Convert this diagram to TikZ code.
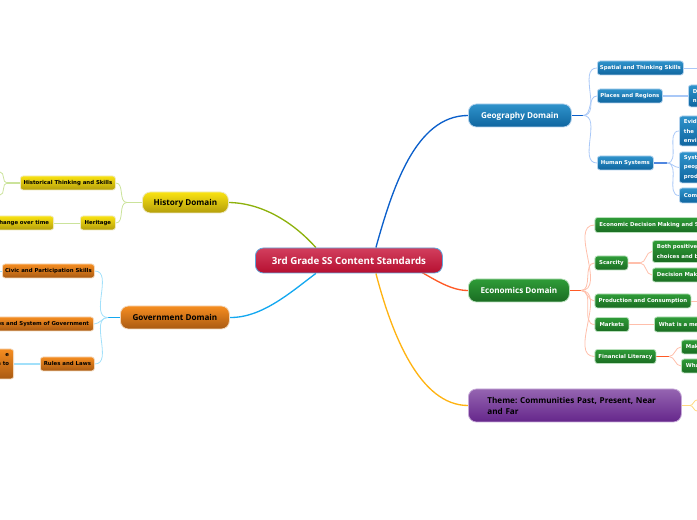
\documentclass[tikz,border=0pt]{standalone}
\usepackage{fontspec}
\setmainfont{Open Sans}
\newfontfamily\leaffont{DejaVu Sans}
\usetikzlibrary{backgrounds,calc}
\frenchspacing

\tikzset{
  wd/.style={minimum width=#1*0.75pt},
  ht/.style={minimum height=#1*0.75pt},
  box/.style={shape = rectangle, inner sep = 0pt, anchor = west, line width = 0.6pt},
  mainbox/.style={box, rounded corners = 6pt, text height = 5.2pt, text depth = 0.4pt, font = \fontsize{6.1}{8.2}\selectfont\bfseries},
  leafbox/.style={box, rounded corners = 2pt, ht = 14, text height = 3.6pt, text depth = 0.6pt, font = \leaffont\fontsize{4.05}{6.8}\selectfont\bfseries},
  multiline/.style={text height = , text depth = },
  offpage/.style={text width = 90pt, inner xsep = 3.4pt, align = left},
  offleft/.style={text width = 100pt, inner xsep = 3.4pt, align = right, anchor = east},
  blue box/.style={top color = blueA, bottom color = blueB, draw = blueL, text = white},
  green box/.style={top color = greenA, bottom color = greenB, draw = greenL, text = white},
  yellow box/.style={top color = yellowA, bottom color = yellowB, draw = yellowL, text = black},
  orange box/.style={top color = orangeA, bottom color = orangeB, draw = orangeL, text = black},
  blue trunk/.style={draw = blueT, line width = 0.9pt},
  blue twig/.style={draw = blueW, line width = 0.6pt},
  blue thick/.style={draw = blueW, line width = 1.3pt},
  red trunk/.style={draw = redT, line width = 0.9pt},
  red twig/.style={draw = redW, line width = 0.6pt},
  red thick/.style={draw = redW, line width = 1.3pt},
  lime twig/.style={draw = limeW, line width = 0.6pt},
  sky twig/.style={draw = skyW, line width = 0.6pt},
  sky thick/.style={draw = skyW, line width = 1.3pt},
  gold twig/.style={draw = goldW, line width = 0.6pt},
}
\definecolor{blueA}{HTML}{2F93CB}
\definecolor{blueB}{HTML}{0F659F}
\definecolor{blueL}{HTML}{B5D3EE}
\definecolor{blueT}{HTML}{4F86E0}
\definecolor{blueM}{HTML}{0B5FCB}
\definecolor{blueW}{HTML}{A9C8F7}
\definecolor{greenA}{HTML}{2F9C38}
\definecolor{greenB}{HTML}{1A6C22}
\definecolor{greenL}{HTML}{B9E0BC}
\definecolor{redT}{HTML}{FF5A26}
\definecolor{redW}{HTML}{FFBFAB}
\definecolor{yellowA}{HTML}{FAE311}
\definecolor{yellowB}{HTML}{B49E0B}
\definecolor{yellowL}{HTML}{EEE9C0}
\definecolor{limeT}{HTML}{8DB10C}
\definecolor{limeW}{HTML}{CBE39B}
\definecolor{orangeA}{HTML}{F68D20}
\definecolor{orangeB}{HTML}{A95A12}
\definecolor{orangeL}{HTML}{F2D9BE}
\definecolor{skyT}{HTML}{14A8F0}
\definecolor{skyW}{HTML}{A2E0FA}
\definecolor{goldT}{HTML}{FFB312}
\definecolor{goldW}{HTML}{FFD87F}
\definecolor{purpleA}{HTML}{9565B1}
\definecolor{purpleB}{HTML}{65268B}
\definecolor{purpleL}{HTML}{C7A9D8}
\definecolor{crimsonA}{HTML}{D23F5E}
\definecolor{crimsonB}{HTML}{B60F30}
\definecolor{crimsonL}{HTML}{5FA5DA}

\begin{document}
\begin{tikzpicture}[x=0.75pt, y=-0.75pt]
\useasboundingbox (0,0) rectangle (697,520);

% centre and domains
\node[mainbox, wd = 187, ht = 25, text height = 6pt, text depth = 0.6pt, font = \fontsize{7.3}{9}\selectfont\bfseries, top color = crimsonA, bottom color = crimsonB, draw = crimsonL, text = white] (main) at (255,260.5) {3rd Grade SS Content Standards};
\node[mainbox, wd = 103, ht = 23, blue box] (geography) at (468,115.5) {Geography Domain};
\node[mainbox, wd = 101, ht = 23, green box] (economics) at (468,290.5) {Economics Domain};
\node[mainbox, wd = 86, ht = 21, yellow box] (history) at (142,202.5) {History Domain};
\node[mainbox, wd = 109, ht = 23, orange box] (government) at (120,317.5) {Government Domain};
\node[mainbox, multiline, wd = 213, ht = 33, top color = purpleA, bottom color = purpleB, draw = purpleL, text = black, text width = 175*0.75pt, align = left, inner xsep = 13.5pt] (theme) at (468,405.5) {Theme: Communities Past, Present, Near\\and Far};

% geography
\node[leafbox, wd = 86, blue box] (spatial) at (597,68) {Spatial and Thinking Skills};
\node[leafbox, wd = 65, blue box] (places) at (597,96) {Places and Regions};
\node[leafbox, wd = 56, blue box] (human) at (597,163) {Human Systems};
\node[leafbox, multiline, offpage, ht = 22, blue box] (data) at (688,96) {Da\\na};
\node[leafbox, multiline, offpage, ht = 30, blue box] (evidence) at (679,131) {Evide\\the\\envi};
\node[leafbox, multiline, offpage, ht = 31, blue box] (systems) at (679,167.5) {Syst\\peop\\prod};
\node[leafbox, offpage, ht = 15, blue box] (commerce) at (679,195.5) {Com};

% economics
\node[leafbox, offpage, ht = 15, green box] (decision) at (594.5,225) {Economic Decision Making and S};
\node[leafbox, wd = 33, green box] (scarcity) at (594.5,263) {Scarcity};
\node[leafbox, multiline, offpage, ht = 22, green box] (both) at (652,251.5) {Both positive\\choices and b};
\node[leafbox, offpage, ht = 14, green box] (making) at (652,275) {Decision Mak};
\node[leafbox, wd = 96, green box] (production) at (594.5,301) {Production and Consumption};
\node[leafbox, wd = 34, green box] (markets) at (594.5,324.5) {Markets};
\node[leafbox, offpage, ht = 15, green box] (market) at (654,324.5) {What is a me};
\node[leafbox, wd = 61, green box] (financial) at (594.5,356.5) {Financial Literacy};
\node[leafbox, offpage, green box] (mak) at (681,347) {Mak};
\node[leafbox, offpage, green box] (wha) at (681,366) {Wha};

% history
\node[leafbox, wd = 95, yellow box] (thinking) at (20,183) {Historical Thinking and Skills};
\node[leafbox, wd = 35, yellow box] (heritage) at (80,223) {Heritage};
\node[leafbox, offleft, yellow box] (change) at (54,223) {change over time};

% government
\node[leafbox, wd = 92, orange box] (civic) at (2,271) {Civic and Participation Skills};
\node[leafbox, offleft, orange box] (principles) at (94,324) {es and System of Government};
\node[leafbox, wd = 54, orange box] (rules) at (40,364) {Rules and Laws};
\node[leafbox, multiline, offleft, ht = 30, orange box] (rights) at (14,364) {e\hspace{5pt}\\n to\\\ };

\coordinate (geofork) at (583,115.5);
\coordinate (humanfork) at (667,163);
\coordinate (econfork) at (581,290.5);
\coordinate (scarcityfork) at (640,263);
\coordinate (financefork) at (669,356.5);
\coordinate (histfork) at (127,202.5);
\coordinate (govfork) at (108,317.5);
\coordinate (thinkfork) at (7,183);
\coordinate (themefork) at (690,405.5);
\coordinate (spatialend) at (697,68);
\coordinate (productionend) at (697,301);
\coordinate (civicend) at (0,271);
\coordinate (thinkup) at (0,172);
\coordinate (thinkdown) at (0,195);
\coordinate (themeup) at (697,400);
\coordinate (themedown) at (697,411);

\begin{scope}[on background layer]
\draw[draw = blueM, line width = 1pt] ($(main.north)+(27,0)$) .. controls (392,190) and (415,115.5) .. (geography.west);
\draw[draw = redT, line width = 1pt] ($(main.south)+(73,-1)$) .. controls (437,281) and (452,290.5) .. (economics.west);
\draw[draw = goldT, line width = 1pt] ($(main.south)+(27,0)$) .. controls (392,335) and (420,405.5) .. (theme.west);
\draw[draw = limeT, line width = 1pt] ($(main.north)+(-33,0)$) .. controls (293,222) and (262,203) .. (history.east);
\draw[draw = skyT, line width = 1pt] ($(main.south)+(-33,0)$) .. controls (291,292) and (262,318) .. (government.east);

\draw[draw = blueM, line width = 0.9pt] (geography.east) -- (geofork);
\foreach \leaf in {spatial, places, human}
  \draw[blue twig] (geofork) to[out=0, in=180] (\leaf.west);
\draw[blue twig] (spatial.east) -- (spatialend);
\draw[blue thick] (places.east) -- (data.west);
\draw[blue trunk] (human.east) -- (humanfork);
\foreach \leaf in {evidence, systems, commerce}
  \draw[blue twig] (humanfork) to[out=0, in=180] (\leaf.west);

\draw[red trunk] (economics.east) -- (econfork);
\foreach \leaf in {decision, scarcity, production, markets, financial}
  \draw[red twig] (econfork) to[out=0, in=180] (\leaf.west);
\draw[red thick] (scarcity.east) -- (scarcityfork);
\foreach \leaf in {both, making}
  \draw[red twig] (scarcityfork) to[out=0, in=180] (\leaf.west);
\draw[red twig] (production.east) -- (productionend);
\draw[red thick] (markets.east) -- (market.west);
\draw[red trunk] (financial.east) -- (financefork);
\foreach \leaf in {mak, wha}
  \draw[red twig] (financefork) to[out=0, in=180] (\leaf.west);

\draw[lime twig, line width = 0.9pt] (history.west) -- (histfork);
\foreach \leaf in {thinking, heritage}
  \draw[lime twig] (histfork) to[out=180, in=0] (\leaf.east);
\draw[lime twig] (heritage.west) -- (change.east);
\draw[lime twig, line width = 0.9pt] (thinking.west) -- (thinkfork);
\draw[lime twig] (thinkfork) to[out=180, in=0] (thinkup);
\draw[lime twig] (thinkfork) to[out=180, in=0] (thinkdown);

\draw[draw = skyT, line width = 0.9pt] (government.west) -- (govfork);
\foreach \leaf in {civic, principles, rules}
  \draw[sky twig] (govfork) to[out=180, in=0] (\leaf.east);
\draw[sky twig] (civic.west) -- (civicend);
\draw[sky thick] (rules.west) -- (rights.east);

\draw[gold twig] (theme.east) -- (themefork);
\draw[gold twig] (themefork) to[out=0, in=180] (themeup);
\draw[gold twig] (themefork) to[out=0, in=180] (themedown);
\end{scope}
\end{tikzpicture}
\end{document}
